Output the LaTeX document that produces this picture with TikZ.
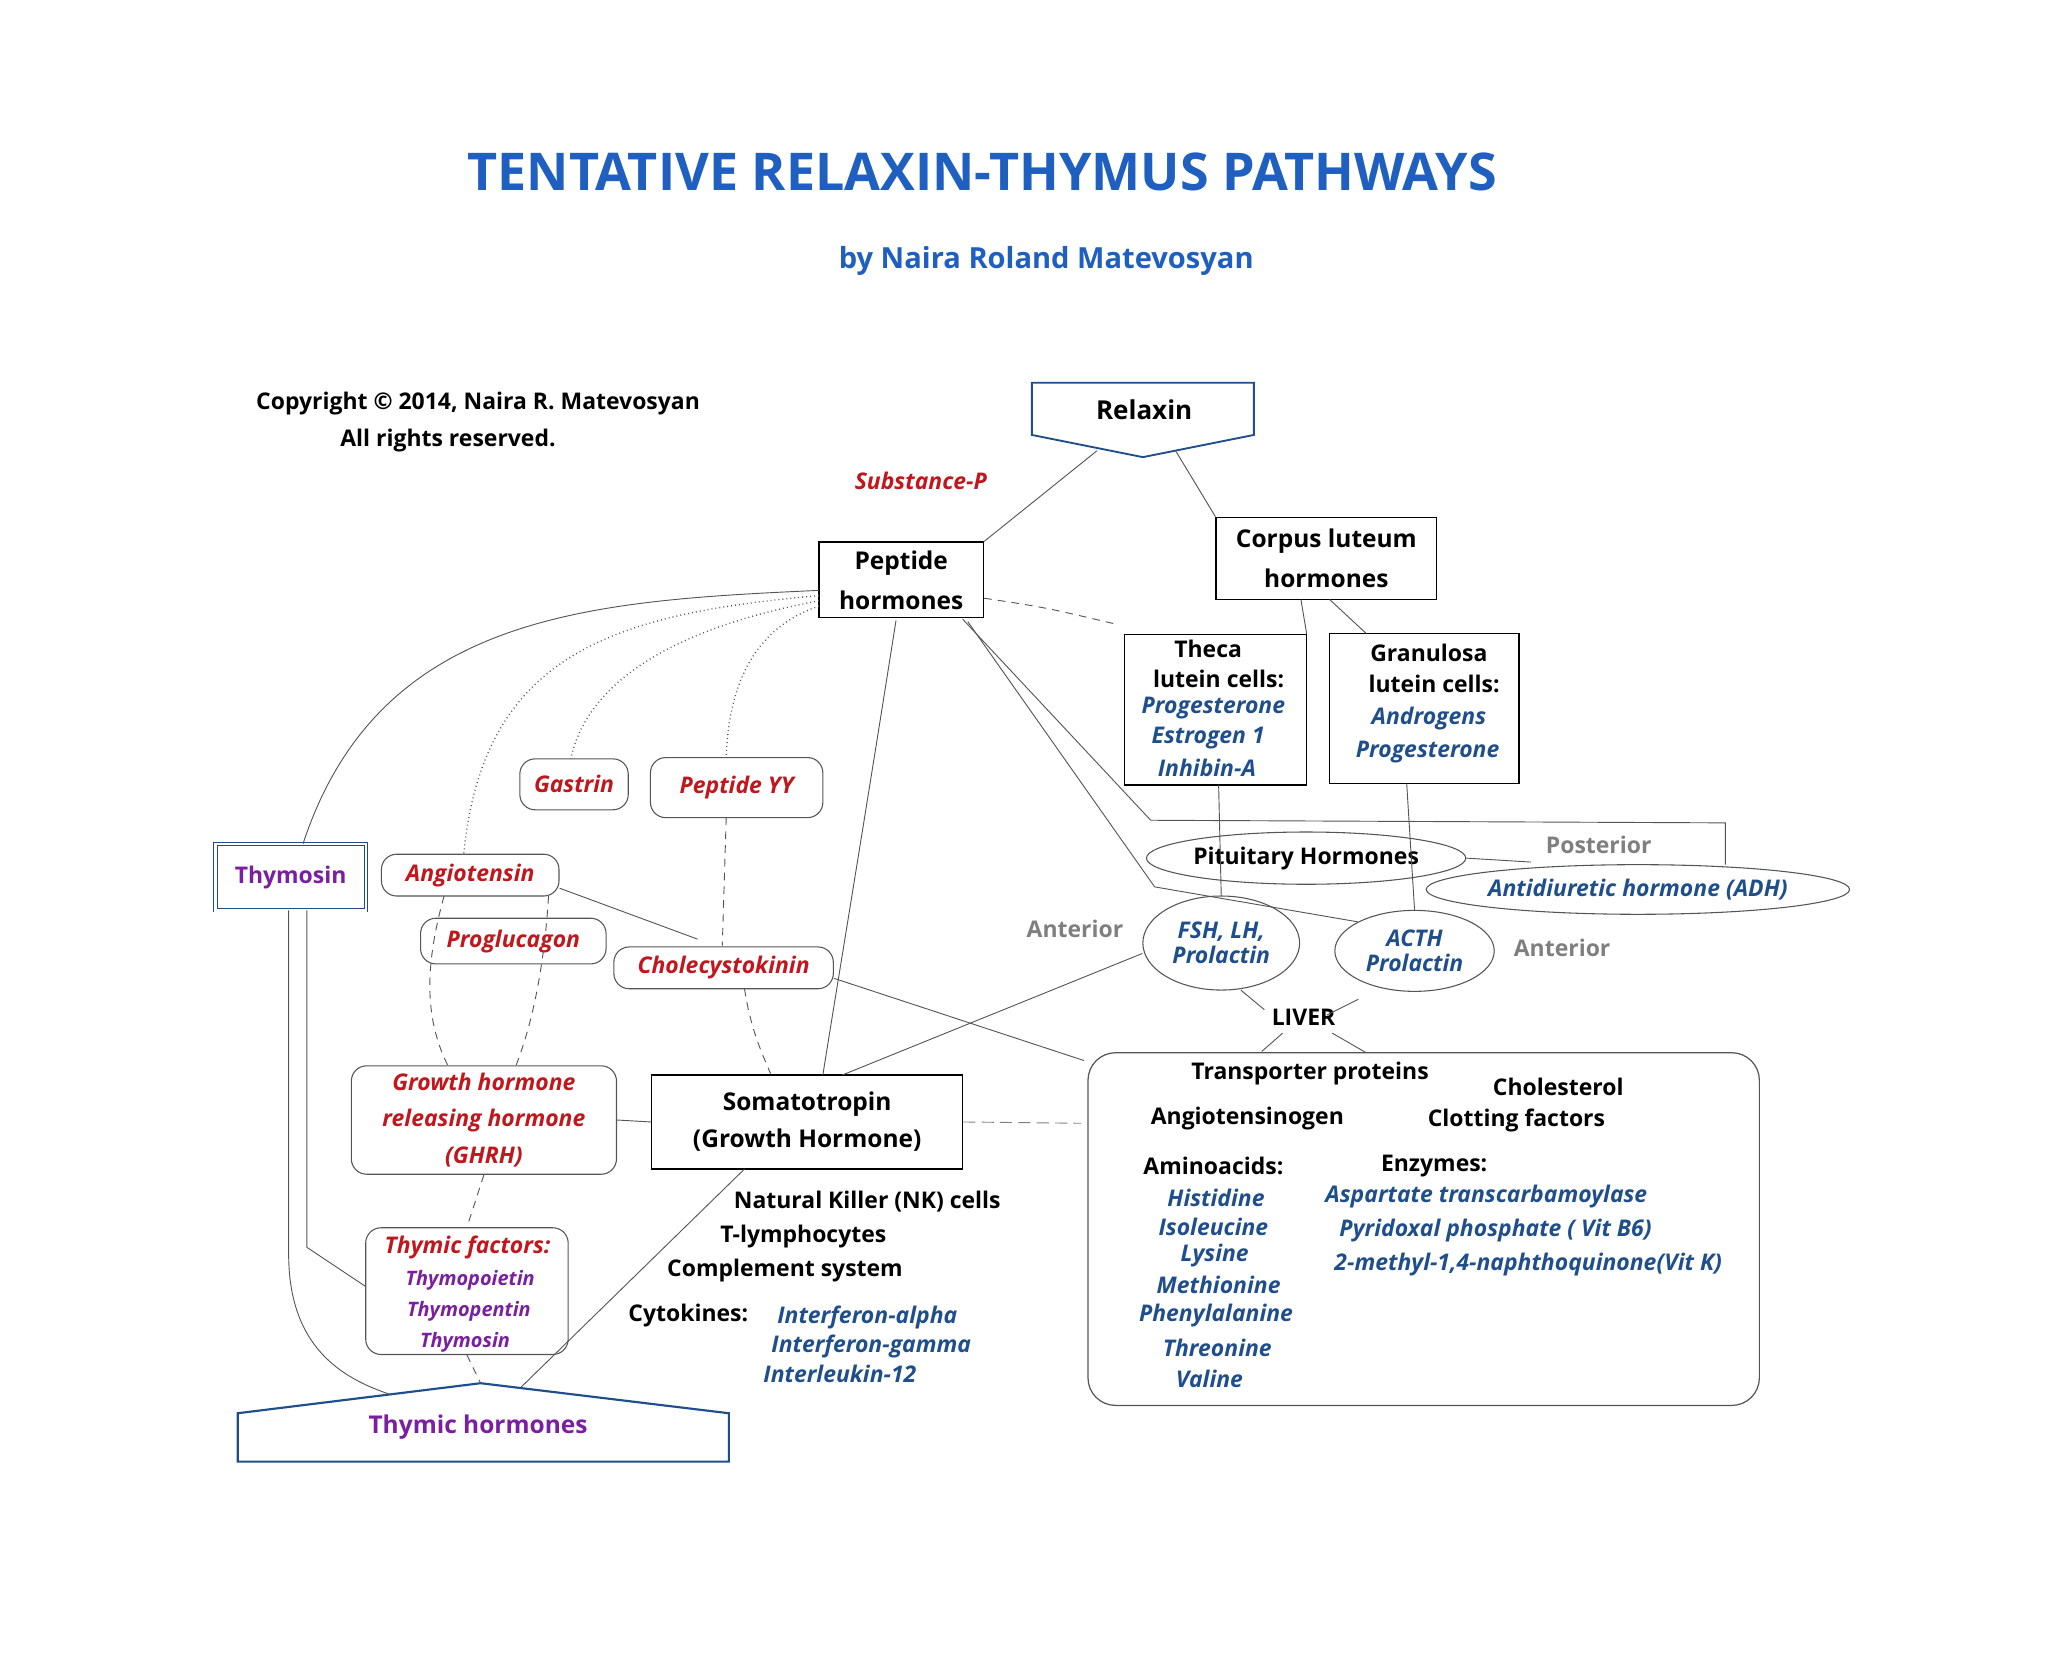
\documentclass[tikz,border=0pt]{standalone}
\usepackage{fontspec}
\setmainfont{Open Sans}
\usetikzlibrary{shapes.geometric}
\definecolor{tblue}{HTML}{1F5FBF}
\definecolor{ib}{HTML}{1F4E8C}
\definecolor{rd}{HTML}{C0161C}
\definecolor{pp}{HTML}{7A1FA0}
\definecolor{gr}{HTML}{7F7F7F}
\definecolor{ln}{HTML}{555555}
\begin{document}
\begin{tikzpicture}[x=0.03cm,y=-0.03cm,
  every node/.style={font=\fontsize{15}{18}\selectfont\bfseries, inner sep=0pt},
  box/.style={draw=black, line width=0.8pt},
  rbox/.style={draw=ln, line width=0.7pt, rounded corners=10pt},
  ell/.style={draw=ln, line width=0.7pt, ellipse},
  it/.style={font=\fontsize{15}{18}\selectfont\bfseries\itshape},
  red/.style={it, text=rd}, blu/.style={it, text=ib}, pur/.style={it, text=pp},
  con/.style={draw=ln, line width=0.6pt},
  dot/.style={con, dotted, line width=0.9pt},
  dsh/.style={con, dash pattern=on 5pt off 4pt}]
\useasboundingbox (0,0) rectangle (1568,1283);
% title
\node[font=\fontsize{34}{40}\selectfont\bfseries, text=tblue] (title) at (752,132) {TENTATIVE RELAXIN-THYMUS PATHWAYS};
\node[font=\fontsize{19}{22}\selectfont\bfseries, text=tblue] (sub) at (801,200) {by Naira Roland Matevosyan};
\node (cp1) at (366,309) {Copyright \textcopyright{} 2014, Naira R. Matevosyan};
\node (cp2) at (343,337) {All rights reserved.};
% relaxin
\draw[line width=1.2pt, draw=ib] (790,293) -- (960,293) -- (960,333) -- (875,350) -- (790,333) -- cycle;
\node[font=\fontsize{17}{20}\selectfont\bfseries] (relaxin) at (876,314) {Relaxin};
\coordinate (rl) at (840,345); \coordinate (rr) at (900,345);
\node[red, font=\fontsize{15}{18}\selectfont\bfseries\itshape] (subp) at (705,368) {Substance-P};
% boxes
\node[box, minimum width=3.78cm, minimum height=1.74cm, align=center, font=\fontsize{16}{26}\selectfont\bfseries] (pep) at (690,444) {Peptide\\hormones};
\node[box, minimum width=5.07cm, minimum height=1.89cm, align=center, font=\fontsize{16}{26}\selectfont\bfseries] (corp) at (1015.5,427.5) {Corpus luteum\\hormones};
\node[box, minimum width=4.17cm, minimum height=3.45cm] (theca) at (930.5,543.5) {};
\node (t1) at (925,497) {Theca};
\node (t2) at (933,520) {lutein cells:};
\node[blu] (t3) at (929,542) {Progesterone};
\node[blu] (t4) at (925,565) {Estrogen 1};
\node[blu] (t5) at (924,588) {Inhibin-A};
\node[box, minimum width=4.35cm, minimum height=3.45cm] (gran) at (1090.5,542.5) {};
\node (g1) at (1094,500) {Granulosa};
\node (g2) at (1098,524) {lutein cells:};
\node[blu] (g3) at (1094,550) {Androgens};
\node[blu] (g4) at (1093,576) {Progesterone};
% pituitary
\node[ell, minimum width=6.84cm, minimum height=1.2cm] (pit) at (1000,657) {Pituitary Hormones};
\node[text=gr] (post) at (1224,647) {Posterior};
\node[ell, blu, minimum width=9.6cm, minimum height=1.14cm] (adh) at (1254,681) {Antidiuretic hormone (ADH)};
\node[ell, blu, minimum width=3.6cm, minimum height=2.16cm, align=center, font=\fontsize{15}{16}\selectfont\bfseries\itshape] (fsh) at (935,722) {FSH, LH,\\Prolactin};
\node[ell, blu, minimum width=3.66cm, minimum height=1.86cm, align=center, font=\fontsize{15}{16}\selectfont\bfseries\itshape] (acth) at (1083,728) {ACTH\\Prolactin};
\node[text=gr] (ant1) at (823,711) {Anterior};
\node[text=gr] (ant2) at (1196,726) {Anterior};
\node (liver) at (998,779) {LIVER};
% liver box
\node[draw=ln, line width=0.8pt, rounded corners=18pt, minimum width=15.42cm, minimum height=8.1cm] (lbox) at (1090,941) {};
\node (l1) at (1003,822) {Transporter proteins};
\node (l2) at (1193,832) {Cholesterol};
\node (l3) at (955,856) {Angiotensinogen};
\node (l4) at (1161,858) {Clotting factors};
\node (l5) at (929,893) {Aminoacids:};
\node (l6) at (1098,893) {Enzymes:};
\node[blu] (a1) at (931,917) {Histidine};
\node[blu] (a2) at (929,939) {Isoleucine};
\node[blu] (a3) at (930,961) {Lysine};
\node[blu] (a4) at (933,984) {Methionine};
\node[blu] (a5) at (931,1007) {Phenylalanine};
\node[blu] (a6) at (932,1032) {Threonine};
\node[blu] (a7) at (926,1056) {Valine};
\node[blu] (e1) at (1138,916) {Aspartate transcarbamoylase};
\node[blu] (e2) at (1145,942) {Pyridoxal phosphate ( Vit B6)};
\node[blu] (e3) at (1170,968) {2-methyl-1,4-naphthoquinone(Vit K)};
% somatotropin
\node[box, minimum width=7.14cm, minimum height=2.16cm, align=center, font=\fontsize{16}{24}\selectfont\bfseries] (soma) at (618,859) {Somatotropin\\(Growth Hormone)};
\node (n1) at (664,920) {Natural Killer (NK) cells};
\node (n2) at (615,947) {T-lymphocytes};
\node (n3) at (601,973) {Complement system};
\node (n4) at (527,1007) {Cytokines:};
\node[blu] (c1) at (664,1009) {Interferon-alpha};
\node[blu] (c2) at (667,1031) {Interferon-gamma};
\node[blu] (c3) at (643,1052) {Interleukin-12};
% peptide family
\node[rbox, red, minimum width=6.09cm, minimum height=2.49cm, align=center, font=\fontsize{15}{24}\selectfont\bfseries\itshape] (ghrh) at (370.5,857.5) {Growth hormone\\releasing hormone\\(GHRH)};
\node[rbox, minimum width=4.65cm, minimum height=2.91cm] (tf) at (357.5,988.5) {};
\node[red] (tf1) at (358,955) {Thymic factors:};
\node[pur, font=\fontsize{13}{15}\selectfont\bfseries\itshape] (tf2) at (360,980) {Thymopoietin};
\node[pur, font=\fontsize{13}{15}\selectfont\bfseries\itshape] (tf3) at (359,1004) {Thymopentin};
\node[pur, font=\fontsize{13}{15}\selectfont\bfseries\itshape] (tf4) at (356,1028) {Thymosin};
\node[draw=ib, double=white, double distance=1.5pt, line width=0.6pt, text=pp, minimum width=3.45cm, minimum height=1.53cm] (thy) at (222.5,671.5) {Thymosin};
\node[rbox, red, minimum width=4.08cm, minimum height=0.96cm] (ang) at (360,670) {Angiotensin};
\node[rbox, red, minimum width=2.49cm, minimum height=1.17cm] (gas) at (439.5,600.5) {Gastrin};
\node[rbox, red, minimum width=3.96cm, minimum height=1.38cm] (pyy) at (564,603) {Peptide YY};
\node[rbox, red, minimum width=4.26cm, minimum height=1.05cm] (prog) at (393,720.5) {Proglucagon};
\node[rbox, red, minimum width=5.04cm, minimum height=0.96cm] (cck) at (554,741) {Cholecystokinin};
% thymic hormones
\draw[line width=1.4pt, draw=ib] (182,1082) -- (368,1059) -- (558,1082) -- (558,1119) -- (182,1119) -- cycle;
\node[text=pp, font=\fontsize{16}{19}\selectfont\bfseries] (th) at (366,1093) {Thymic hormones};
\coordinate (thtop) at (368,1059);
% connectors
\draw[con] (rl) -- (pep.north east);
\draw[con] (rr) -- (corp.north west);
\draw[con] (996,459) -- (theca.north east);
\draw[con] (1018,459) -- (1046,485);
\draw[con, dash pattern=on 5pt off 4pt] (pep.east) ++(0,14) .. controls (800,465) .. (855,478);
\draw[con] (737,474) -- (881,628) -- (1321,630) -- (1321,662);
\draw[con] (741,476) -- (884,679) -- (acth.north west);
\draw[con] (pit.east) -- (1172,660);
\draw[con] (933,601) -- (fsh.north);
\draw[con] (1077,600) -- (acth.north);
\draw[con] (950,758) -- (968,773);
\draw[con] (1040,765) -- (1016,777);
\draw[con] (982,791) -- (966,805);
\draw[con] (1020,791) -- (1046,806);
\draw[con] (fsh.west) ++(0,8) -- (645,823);
\draw[con] (cck.east) ++(0,8) -- (830,812);
\draw[con] (ang.east) ++(0,10) -- (534,719);
\draw[con, dash pattern=on 8pt off 4pt, draw=gr] (soma.east) -- (828,860);
\draw[con] (ghrh.east) -- (soma.west);
\draw[dsh] (ghrh.south) -- (tf.north);
\draw[dsh] (tf.south) -- (thtop);
\draw[con] (686,475) .. controls (660,640) and (640,760) .. (630,823);
\draw[con] (570,895) -- (399,1062);
\draw[con] (627,452) .. controls (450,460) and (290,470) .. (232,646);
\draw[con] (221,697) -- (221,960) .. controls (221,1030) and (260,1055) .. (300,1068);
\draw[con] (235,697) -- (235,955) -- (280,985);
% dotted curves
\draw[dot] (627,456) .. controls (470,470) and (370,500) .. (355,654);
\draw[dot] (627,460) .. controls (520,480) and (450,520) .. (437,581);
\draw[dot] (627,464) .. controls (580,480) and (558,520) .. (556,580);
\draw[dsh] (556,626) -- (553,724);
\draw[dsh] (420,686) .. controls (416,750) and (405,790) .. (395,816);
\draw[dsh] (340,686) .. controls (325,740) and (325,780) .. (343,816);
\draw[dsh] (570,757) .. controls (575,790) and (585,810) .. (590,822);
\end{tikzpicture}
\end{document}
